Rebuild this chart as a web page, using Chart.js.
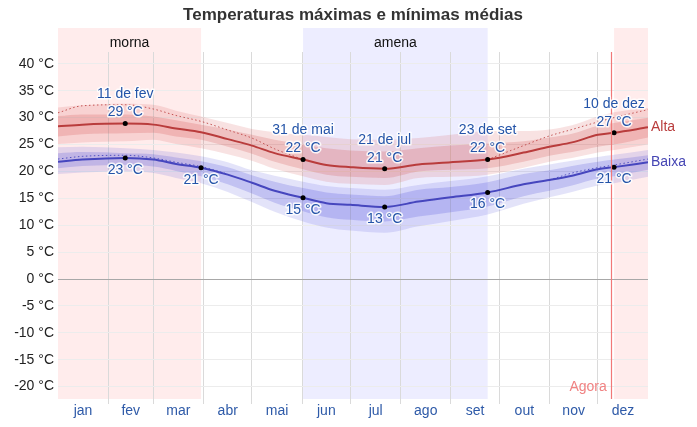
<!DOCTYPE html>
<html>
<head>
<meta charset="utf-8">
<script src="https://cdn.jsdelivr.net/npm/chart.js@4/dist/chart.umd.min.js"></script>
<style>
html,body{margin:0;padding:0;background:#fff;}
canvas{display:block;}
</style>
</head>
<body>
<canvas id="c" width="697" height="427"></canvas>
<script>
// ---- data (day of year) ----
const days      = [0, 15, 41.6, 59, 73, 88.5, 105, 120, 134, 151.6, 166, 181, 202.1, 223, 243, 265.8, 288, 304, 318, 334, 344, 365];
const highAvg   = [28.4, 28.7, 28.9, 28.7, 28.0, 27.3, 26.0, 24.8, 23.4, 22.2, 21.2, 20.8, 20.5, 21.3, 21.7, 22.2, 23.5, 24.6, 25.4, 26.8, 27.2, 28.2];
const highP90   = [31.9, 32.3, 32.6, 32.4, 31.3, 30.2, 29.0, 27.9, 27.3, 26.8, 26.4, 26.0, 25.9, 26.2, 26.8, 27.5, 27.5, 27.8, 28.6, 30.2, 31.0, 31.8];
const highP75   = [30.3, 30.6, 30.6, 30.2, 29.5, 28.7, 27.8, 26.8, 25.9, 25.0, 24.3, 23.9, 23.7, 24.3, 24.8, 25.2, 25.6, 26.3, 27.0, 28.5, 29.0, 30.0];
const highP25   = [26.5, 26.9, 27.1, 27.2, 26.5, 25.9, 24.6, 23.3, 21.8, 20.4, 19.4, 19.0, 18.8, 20.0, 20.3, 20.6, 21.8, 22.9, 23.6, 24.6, 25.0, 26.3];
const highP10   = [25.1, 25.4, 25.6, 25.9, 25.1, 24.3, 23.2, 22.0, 20.5, 19.1, 18.1, 17.7, 17.5, 18.8, 19.0, 19.4, 20.7, 21.8, 22.5, 23.5, 24.0, 25.0];
const highFeel  = [30.9, 32.2, 32.4, 31.6, 30.4, 29.3, 27.7, 26.2, 24.2, 22.2, null, null, null, null, null, 22.2, 24.8, 26.6, 27.8, 29.2, 30.0, 31.5];

const lowAvg    = [21.8, 22.2, 22.5, 22.2, 21.4, 20.7, 19.4, 17.9, 16.4, 15.1, 14.1, 13.8, 13.4, 14.4, 15.2, 16.1, 17.6, 18.4, 19.2, 20.4, 20.8, 21.7];
const lowP90    = [24.5, 24.6, 24.3, 24.0, 23.5, 22.8, 21.7, 20.2, 19.2, 18.1, 17.3, 16.9, 16.6, 17.5, 18.2, 19.1, 20.5, 21.3, 22.0, 22.7, 23.1, 24.0];
const lowP75    = [23.4, 23.6, 23.4, 23.2, 22.6, 21.9, 20.8, 19.3, 18.1, 16.9, 16.1, 15.7, 15.4, 16.6, 17.1, 18.0, 19.5, 20.2, 21.0, 21.8, 22.2, 23.0];
const lowP25    = [20.6, 21.0, 21.2, 20.9, 20.1, 19.1, 17.6, 15.9, 14.2, 12.6, 11.5, 11.0, 10.7, 11.6, 12.4, 13.5, 15.4, 16.4, 17.4, 18.7, 19.1, 20.3];
const lowP10    = [19.5, 19.8, 20.0, 19.7, 18.8, 17.8, 16.2, 14.3, 12.5, 10.7, 9.6, 9.0, 8.6, 9.8, 10.8, 12.0, 14.0, 15.2, 16.2, 17.4, 17.8, 19.0];
const lowFeel   = [22.3, 22.8, 23.0, 22.5, 21.7, 20.9, 19.5, null, null, null, null, null, null, null, null, null, null, 18.4, 19.7, 20.7, 21.2, 22.3];

const monthNames  = ['jan','fev','mar','abr','mai','jun','jul','ago','set','out','nov','dez'];
const monthStarts = [0, 31, 59, 90, 120, 151, 181, 212, 243, 273, 304, 334, 365];
const yTicks      = [-20, -15, -10, -5, 0, 5, 10, 15, 20, 25, 30, 35, 40];

// annotations: indices into days
const highMarks = [2, 9, 12, 15, 20];
const lowMarks  = [2, 5, 9, 12, 15, 20];
const markDates = {2:'11 de fev', 9:'31 de mai', 12:'21 de jul', 15:'23 de set', 20:'10 de dez'};

const seasonStart = [0, 151.6, 344];
const seasonEnd   = [88.5, 265.8, 365];
const seasonKind  = ['warm', 'mild', 'warm'];
const seasonLabel = ['morna', 'amena', ''];
const nowDay = 342;

// ---- build ----
const pts = arr => days.map((d, i) => ({x: d, y: arr[i]}));
const RED = 'rgb(185,60,60)', BLUE = 'rgb(70,70,190)';
const redLight = 'rgba(205,60,60,0.15)', redDark = 'rgba(205,60,60,0.20)';
const blueLight = 'rgba(60,60,215,0.14)', blueDark = 'rgba(60,60,215,0.20)';

function band(arr, fillTo, color) {
  return {data: pts(arr), borderWidth: 0, pointRadius: 0, fill: fillTo === null ? false : {target: fillTo},
    backgroundColor: color, borderColor: 'rgba(0,0,0,0)', cubicInterpolationMode: 'monotone', order: 10};
}
const markerData = highMarks.map(i => ({x: days[i], y: highAvg[i]})).concat(lowMarks.map(i => ({x: days[i], y: lowAvg[i]})));

const datasets = [
  band(highP90, 1, redLight), band(highP10, null, redLight),
  band(highP75, 3, redDark),  band(highP25, null, redDark),
  band(lowP90, 5, blueLight), band(lowP10, null, blueLight),
  band(lowP75, 7, blueDark),  band(lowP25, null, blueDark),
  {data: pts(highFeel), borderColor: 'rgba(190,70,70,0.9)', borderWidth: 1, borderDash: [1.5, 2.5], pointRadius: 0, fill: false, spanGaps: false, cubicInterpolationMode: 'monotone', order: 5},
  {data: pts(lowFeel), borderColor: 'rgba(70,70,190,0.9)', borderWidth: 1, borderDash: [1.5, 2.5], pointRadius: 0, fill: false, spanGaps: false, cubicInterpolationMode: 'monotone', order: 5},
  {data: pts(highAvg), borderColor: RED, borderWidth: 2, pointRadius: 0, fill: false, cubicInterpolationMode: 'monotone', order: 3},
  {data: pts(lowAvg), borderColor: BLUE, borderWidth: 2, pointRadius: 0, fill: false, cubicInterpolationMode: 'monotone', order: 3},
  {data: markerData, showLine: false, pointRadius: 2.5, pointBackgroundColor: '#000', pointBorderWidth: 0, order: 1}
];

function haloText(ctx, txt, x, y, color) {
  ctx.lineJoin = 'round';
  ctx.strokeStyle = 'rgba(255,255,255,0.85)';
  ctx.lineWidth = 3;
  ctx.strokeText(txt, x, y);
  ctx.fillStyle = color;
  ctx.fillText(txt, x, y);
}

const FONT = '"Liberation Sans", Arial, sans-serif';

const decor = {
  id: 'decor',
  beforeDraw(chart) {
    const {ctx, chartArea, scales: {x}} = chart;
    ctx.save();
    for (let i = 0; i < seasonStart.length; i++) {
      const x0 = x.getPixelForValue(seasonStart[i]), x1 = x.getPixelForValue(seasonEnd[i]);
      ctx.fillStyle = seasonKind[i] === 'warm' ? 'rgba(255,40,40,0.085)' : 'rgba(50,50,255,0.085)';
      ctx.fillRect(x0, 28, x1 - x0, chartArea.bottom - 28);
      if (seasonLabel[i]) {
        ctx.font = '14px ' + FONT;
        ctx.fillStyle = '#111';
        ctx.textAlign = 'center';
        ctx.textBaseline = 'middle';
        ctx.fillText(seasonLabel[i], (x0 + x1) / 2, 43);
      }
    }
    // title
    ctx.font = 'bold 17px ' + FONT;
    ctx.fillStyle = '#333';
    ctx.textAlign = 'center';
    ctx.textBaseline = 'middle';
    ctx.fillText('Temperaturas máximas e mínimas médias', (chartArea.left + chartArea.right) / 2, 15);
    ctx.restore();
  },
  afterDatasetsDraw(chart) {
    const {ctx, chartArea, scales: {x}} = chart;
    const nx = Math.round(x.getPixelForValue(nowDay)) + 0.5;
    ctx.save();
    ctx.strokeStyle = 'rgb(242,120,120)';
    ctx.lineWidth = 1.2;
    ctx.beginPath();
    ctx.moveTo(nx, chartArea.top);
    ctx.lineTo(nx, chartArea.bottom);
    ctx.stroke();
    ctx.restore();
  },
  afterDraw(chart) {
    const {ctx, chartArea, scales: {x, y}} = chart;
    ctx.save();
    ctx.font = '14px ' + FONT;
    ctx.textAlign = 'center';
    ctx.textBaseline = 'middle';
    // month labels
    ctx.fillStyle = '#2e5aa8';
    for (let m = 0; m < 12; m++) {
      const mid = (monthStarts[m] + monthStarts[m + 1]) / 2;
      ctx.fillText(monthNames[m], x.getPixelForValue(mid), 411);
    }
    const AC = '#2454a8';
    highMarks.forEach(i => {
      const px = x.getPixelForValue(days[i]), py = y.getPixelForValue(highAvg[i]);
      haloText(ctx, Math.round(highAvg[i]) + ' °C', px, py - 11, AC);
      haloText(ctx, markDates[i], px, py - 29, AC);
    });
    lowMarks.forEach(i => {
      const px = x.getPixelForValue(days[i]), py = y.getPixelForValue(lowAvg[i]);
      haloText(ctx, Math.round(lowAvg[i]) + ' °C', px, py + 12, AC);
    });
    // series names
    ctx.textAlign = 'left';
    const last = days.length - 1;
    ctx.fillStyle = 'rgb(185,60,60)';
    ctx.fillText('Alta', chartArea.right + 3, y.getPixelForValue(highAvg[last]));
    ctx.fillStyle = 'rgb(70,70,180)';
    ctx.fillText('Baixa', chartArea.right + 3, y.getPixelForValue(lowAvg[last]));
    // now label
    ctx.textAlign = 'right';
    ctx.fillStyle = 'rgb(240,130,130)';
    ctx.fillText('Agora', x.getPixelForValue(nowDay) - 4, 387);
    ctx.restore();
  }
};

new Chart(document.getElementById('c'), {
  type: 'line',
  data: {datasets},
  options: {
    responsive: false,
    animation: false,
    devicePixelRatio: 1,
    layout: {padding: {top: 52, right: 49, left: 0, bottom: 0}},
    plugins: {legend: {display: false}, title: {display: false}, tooltip: {enabled: false}},
    elements: {line: {tension: 0.4}},
    scales: {
      x: {
        type: 'linear', min: 0, max: 365,
        afterBuildTicks: s => { s.ticks = monthStarts.map(v => ({value: v})); },
        afterFit: s => { s.height = 28; },
        ticks: {display: false},
        border: {display: false},
        grid: {
          drawTicks: true, tickLength: 5,
          color: c => (c.tick && (c.tick.value === 0 || c.tick.value === 365)) ? 'rgba(0,0,0,0)' : '#dadada'
        }
      },
      y: {
        type: 'linear', min: -22.3, max: 42.2,
        afterBuildTicks: s => { s.ticks = yTicks.map(v => ({value: v})); },
        afterFit: s => { s.width = 58; },
        border: {display: false},
        ticks: {
          padding: 4, color: '#222',
          font: {size: 14, family: FONT},
          callback: v => v + ' °C'
        },
        grid: {
          drawTicks: false,
          color: c => (c.tick && c.tick.value === 0) ? '#a8a8a8' : '#ececec'
        }
      }
    }
  },
  plugins: [decor]
});
</script>
</body>
</html>
